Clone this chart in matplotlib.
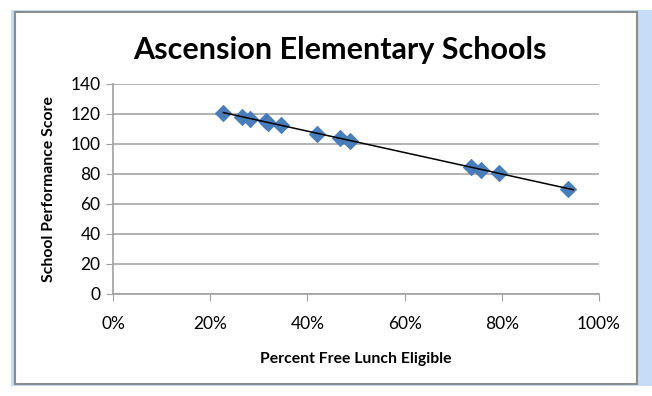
import numpy as np
import matplotlib
matplotlib.use("Agg")
import matplotlib.pyplot as plt
from matplotlib.patches import Rectangle
from matplotlib.ticker import PercentFormatter

plt.rcParams['font.family'] = ['Lato', 'DejaVu Sans']

# data
free_lunch = [0.227, 0.265, 0.282, 0.314, 0.319, 0.346, 0.419, 0.467, 0.488, 0.737, 0.757, 0.794, 0.937]
score = [120.6, 118.0, 117.0, 115.3, 114.3, 112.5, 107.0, 104.0, 102.3, 84.8, 83.0, 80.5, 70.0]

W, H = 652, 396
fig = plt.figure(figsize=(W / 100, H / 100), dpi=100)
fig.patch.set_facecolor('white')

# outer light blue frame and inner bordered chart area
fig.patches.append(Rectangle((11 / W, (H - 386) / H), 1 - 11 / W, 376 / H,
                             transform=fig.transFigure, facecolor='#c6dcf7',
                             edgecolor='none', zorder=0))
fig.patches.append(Rectangle((15 / W, (H - 384) / H), 622 / W, 372 / H,
                             transform=fig.transFigure, facecolor='white',
                             edgecolor='#8c8c8c', linewidth=1.5, zorder=1))

ax = fig.add_axes([113 / W, (H - 294) / H, 486 / W, 210 / H])
ax.set_zorder(2)
ax.patch.set_alpha(0)

ax.scatter(free_lunch, score, marker='D', s=70, color='#4a7ebb',
           edgecolors='#3f73b3', linewidths=0.5, zorder=3)

# linear trendline
k, b = np.polyfit(free_lunch, score, 1)
xs = np.array([min(free_lunch), max(free_lunch) + 0.01])
ax.plot(xs, k * xs + b, color='black', linewidth=1.1, zorder=4)

ax.set_xlim(0, 1)
ax.set_ylim(0, 140)
ax.set_xticks(np.arange(0, 1.01, 0.2))
ax.set_yticks(np.arange(0, 141, 20))
ax.xaxis.set_major_formatter(PercentFormatter(1.0, decimals=0))
ax.yaxis.grid(True, color='#a6a6a6', linewidth=1.2)
ax.set_axisbelow(True)

for s in ['top', 'right']:
    ax.spines[s].set_visible(False)
for s in ['left', 'bottom']:
    ax.spines[s].set_color('#a0a0a0')
    ax.spines[s].set_linewidth(1.2)
ax.tick_params(axis='both', direction='out', length=5, color='#a0a0a0',
               labelsize=12.5, labelcolor='black')
ax.tick_params(axis='x', pad=11)
ax.tick_params(axis='y', pad=4)

ax.set_title('Ascension Elementary Schools', fontsize=22, fontweight='bold',
             pad=18, x=0.467)
ax.set_xlabel('Percent Free Lunch Eligible', fontsize=11.3, fontweight='bold', labelpad=14)
ax.set_ylabel('School Performance Score', fontsize=11.3, fontweight='bold', labelpad=10)

fig.savefig('out.png', dpi=100)
